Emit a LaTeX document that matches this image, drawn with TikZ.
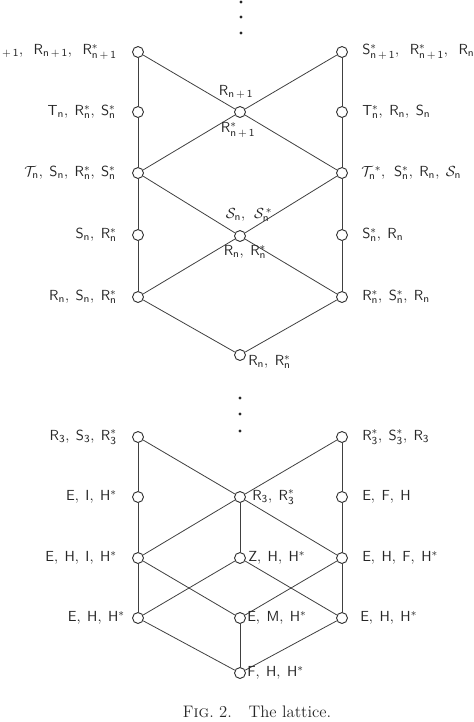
\documentclass[tikz,border=0pt]{standalone}
\newcommand{\lb}[1]{$\mathsf{#1}$}
\newcommand{\np}{{n\,+\,1}}
\begin{document}
\begin{tikzpicture}[x=0.75pt,y=-0.75pt,
  v/.style={circle,draw=black!80,fill=white,line width=0.7pt,minimum size=8.2pt,inner sep=0pt},
  e/.style={draw=black!75,line width=0.6pt},
  lbl/.style={font=\fontsize{11}{13}\selectfont,text=black!85,inner sep=0pt},
  lft/.style={lbl,anchor=east},
  rgt/.style={lbl,anchor=west},
  dot/.style={circle,fill=black!85,inner sep=0pt,minimum size=2.6pt}]
\useasboundingbox (0,0) rectangle (474,722);
\clip (0,0) rectangle (474,722);
% dots
\node[dot] (d1) at (241,2) {};
\node[dot] (d2) at (241,17) {};
\node[dot] (d3) at (241,33) {};
\node[dot] (d4) at (240,398) {};
\node[dot] (d5) at (240,414) {};
\node[dot] (d6) at (240,431) {};
% upper lattice
\node[v] (tl) at (138,52) {};
\node[v] (l2) at (138,112) {};
\node[v] (l3) at (138,173) {};
\node[v] (l4) at (138,235) {};
\node[v] (l5) at (138,297) {};
\node[v] (tr) at (342,52) {};
\node[v] (r2) at (342,112) {};
\node[v] (r3) at (342,173) {};
\node[v] (r4) at (342,235) {};
\node[v] (r5) at (342,297) {};
\node[v] (c1) at (240,112) {};
\node[v] (c2) at (240,236) {};
\node[v] (b) at (240,355) {};
\draw[e] (tl)--(l2)--(l3)--(l4)--(l5);
\draw[e] (tr)--(r2)--(r3)--(r4)--(r5);
\draw[e] (tl)--(c1)--(r3);
\draw[e] (tr)--(c1)--(l3);
\draw[e] (l3)--(c2)--(r5);
\draw[e] (r3)--(c2)--(l5);
\draw[e] (l5)--(b)--(r5);
% upper labels
\node[lft] (tll) at (117,52) {\lb{S_\np,\;\; R_\np,\;\; R^*_\np}};
\node[lft] (l2l) at (116,112) {\lb{T_n,\; R^*_n,\; S^*_n}};
\node[lft] (l3l) at (116,173) {\lb{\mathcal{T}_n,\; S_n,\; R^*_n,\; S^*_n}};
\node[lft] (l4l) at (117,235) {\lb{S_n,\; R^*_n}};
\node[lft] (l5l) at (117,297) {\lb{R_n,\; S_n,\; R^*_n}};
\node[rgt] (trl) at (362,52) {\lb{S^*_\np,\;\; R^*_\np,\;\; R_\np}};
\node[rgt] (r2l) at (362,112) {\lb{T^*_n,\; R_n,\; S_n}};
\node[rgt] (r3l) at (361,173) {\lb{\mathcal{T}^{\,*}_n,\;\, S^*_n,\; R_n,\; \mathcal{S}_n}};
\node[rgt] (r4l) at (362,235) {\lb{S^*_n,\; R_n}};
\node[rgt] (r5l) at (362,297) {\lb{R^*_n,\; S^*_n,\; R_n}};
\node[lbl] (c1a) at (236,92) {\lb{R_\np}};
\node[lbl] (c1b) at (238,130) {\lb{R^*_\np}};
\node[lbl] (c2a) at (249,215) {\lb{\mathcal{S}_n,\;\, \mathcal{S}^{\,*}_n}};
\node[lbl] (c2b) at (245,252) {\lb{R_n,\; R^*_n}};
\node[rgt] (bl) at (248,362) {\lb{R_n,\; R^*_n}};
% lower lattice
\node[v] (ll1) at (138,437) {};
\node[v] (ll2) at (138,497) {};
\node[v] (ll3) at (138,558) {};
\node[v] (ll4) at (138,618) {};
\node[v] (rr1) at (342,437) {};
\node[v] (rr2) at (342,497) {};
\node[v] (rr3) at (342,558) {};
\node[v] (rr4) at (342,618) {};
\node[v] (c) at (240,497) {};
\node[v] (z) at (240,558) {};
\node[v] (m) at (240,618) {};
\node[v] (f) at (240,673) {};
\draw[e] (ll1)--(ll2)--(ll3)--(ll4);
\draw[e] (rr1)--(rr2)--(rr3)--(rr4);
\draw[e] (ll1)--(c)--(rr3);
\draw[e] (rr1)--(c)--(ll3);
\draw[e] (c)--(z);
\draw[e] (ll4)--(z)--(rr4);
\draw[e] (ll3)--(m)--(rr3);
\draw[e] (m)--(f);
\draw[e] (ll4)--(f)--(rr4);
% lower labels
\node[lft] (ll1l) at (117,437) {\lb{R_3,\; S_3,\; R^*_3}};
\node[lft] (ll2l) at (117,497) {\lb{E,\; I,\; H^*}};
\node[lft] (ll3l) at (117,558) {\lb{E,\; H,\; I,\; H^*}};
\node[lft] (ll4l) at (125,618) {\lb{E,\; H,\; H^*}};
\node[rgt] (rr1l) at (362,437) {\lb{R^*_3,\; S^*_3,\; R_3}};
\node[rgt] (rr2l) at (362,497) {\lb{E,\; F,\; H}};
\node[rgt] (rr3l) at (362,558) {\lb{E,\; H,\; F,\; H^*}};
\node[rgt] (rr4l) at (360,618) {\lb{E,\; H,\; H^*}};
\node[rgt] (cl) at (252,497) {\lb{R_3,\; R^*_3}};
\node[rgt] (zl) at (248,558) {\lb{Z,\; H,\; H^*}};
\node[rgt] (ml) at (247,618) {\lb{E,\; M,\; H^*}};
\node[rgt] (fl) at (247,673) {\lb{F,\; H,\; H^*}};
% caption
\node[font=\fontsize{12.5}{15}\selectfont,text=black!85] (cap) at (257,712) {F\textsc{ig}.\ 2.\quad The lattice.};
\end{tikzpicture}
\end{document}
